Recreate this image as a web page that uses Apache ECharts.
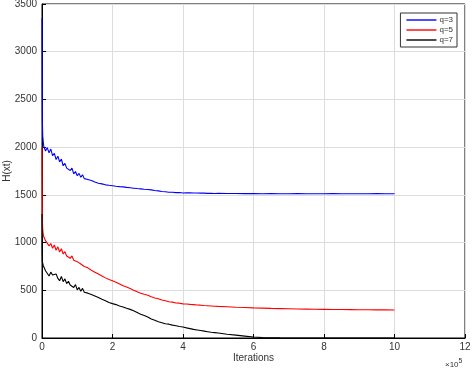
<!DOCTYPE html>
<html><head><meta charset="utf-8">
<script src="https://cdn.jsdelivr.net/npm/echarts@6/dist/echarts.min.js"></script>
<style>html,body{margin:0;padding:0;background:#fff}#c{width:474px;height:368px}</style>
</head><body><div id="c"></div>
<script>
// x values in units of 10^5 iterations
const iterations = [0, 0.005, 0.01, 0.02, 0.035, 0.05, 0.1, 0.15, 0.2, 0.25, 0.3, 0.35, 0.4, 0.45, 0.5, 0.55, 0.6, 0.65, 0.7, 0.75, 0.8, 0.85, 0.9, 0.95, 1.0, 1.05, 1.1, 1.15, 1.2, 1.25, 1.3, 1.35, 1.4, 1.45, 1.5, 1.55, 1.6, 1.65, 1.7, 1.75, 1.8, 1.85, 1.9, 1.95, 2.0, 2.05, 2.1, 2.15, 2.2, 2.25, 2.3, 2.35, 2.4, 2.45, 2.5, 2.55, 2.6, 2.65, 2.7, 2.75, 2.8, 2.85, 2.9, 2.95, 3.0, 3.1, 3.2, 3.3, 3.4, 3.5, 3.6, 3.7, 3.8, 3.9, 4.0, 4.1, 4.2, 4.3, 4.4, 4.5, 4.6, 4.7, 4.8, 4.9, 5.0, 5.25, 5.5, 5.75, 6.0, 6.25, 6.5, 6.75, 7.0, 7.25, 7.5, 7.75, 8.0, 8.25, 8.5, 8.75, 9.0, 9.25, 9.5, 9.75, 10.0];

const q3 = [3350, 2700, 2300, 2120, 2060, 2010, 1960, 1995, 1940, 1980, 1910, 1935, 1870, 1905, 1845, 1875, 1805, 1830, 1780, 1790, 1755, 1780, 1720, 1745, 1700, 1725, 1685, 1710, 1670, 1690, 1660, 1680, 1650, 1668, 1635, 1650, 1622, 1640, 1615, 1628, 1605, 1620, 1600, 1612, 1596, 1608, 1590, 1602, 1586, 1595, 1584, 1590, 1578, 1586, 1574, 1581, 1570, 1577, 1566, 1572, 1563, 1569, 1559, 1564, 1556, 1552, 1545, 1542, 1535, 1532, 1528, 1527, 1523, 1524, 1520, 1521, 1522, 1519, 1520, 1518, 1518, 1516, 1517, 1515, 1516, 1514, 1514, 1513, 1513, 1512, 1513, 1512, 1512, 1513, 1512, 1512, 1512, 1513, 1512, 1512, 1512, 1512, 1513, 1512, 1512];

const q5 = [2000, 1500, 1250, 1140, 1090, 1060, 1020, 1010, 965, 990, 940, 975, 920, 955, 900, 935, 880, 905, 860, 880, 835, 860, 815, 835, 800, 815, 775, 795, 750, 770, 735, 745, 710, 730, 690, 700, 670, 685, 650, 665, 630, 645, 612, 625, 600, 610, 585, 595, 565, 578, 548, 558, 535, 545, 518, 525, 500, 512, 485, 492, 470, 478, 458, 462, 448, 432, 420, 412, 398, 390, 380, 376, 366, 365, 358, 356, 352, 350, 346, 344, 340, 338, 336, 333, 331, 327, 323, 320, 316, 313, 310, 308, 306, 304, 303, 301, 300, 299, 298, 297, 296, 296, 295, 295, 294];

const q7 = [1300, 880, 800, 780, 760, 745, 705, 690, 650, 690, 660, 640, 670, 625, 600, 645, 590, 620, 570, 595, 555, 575, 530, 560, 505, 530, 490, 520, 480, 500, 470, 490, 455, 470, 440, 455, 425, 440, 405, 420, 390, 400, 372, 385, 360, 370, 350, 358, 335, 345, 325, 330, 312, 320, 300, 305, 285, 290, 268, 272, 250, 255, 235, 238, 220, 200, 185, 170, 160, 150, 145, 135, 128, 120, 115, 106, 98, 90, 84, 78, 72, 66, 60, 56, 52, 40, 30, 20, 10, 6, 3, 1, 0, 0, 0, 0, 0, 0, 0, 0, 0, 0, 0, 0, 0];

const seriesNames = ['q=3', 'q=5', 'q=7'];
const seriesColors = ['#0000ff', '#ff0000', '#000000'];
const seriesValues = [q3, q5, q7];

const font = 'Liberation Sans, Arial, sans-serif';
const chart = echarts.init(document.getElementById('c'));
chart.setOption({
  animation: false,
  backgroundColor: '#fff',
  grid: { left: 42, right: 9, top: 4, bottom: 30, show: true, borderColor: '#000', borderWidth: 1, containLabel: false, outerBoundsMode: 'none' },
  legend: {
    right: 17, top: 13, orient: 'vertical',
    backgroundColor: '#fff', borderColor: '#333', borderWidth: 1,
    padding: [3, 4, 3, 6], itemGap: 2, itemWidth: 30, itemHeight: 8,
    textStyle: { fontSize: 8, fontFamily: font, color: '#333', padding: [0, 0, 0, -2] },
    data: seriesNames.map(n => ({ name: n, icon: 'path://M0,0L30,0L30,1.4L0,1.4Z' }))
  },
  xAxis: {
    type: 'value', min: 0, max: 12, interval: 2,
    name: 'Iterations', nameLocation: 'middle', nameGap: 15, nameMoveOverlap: false,
    nameTextStyle: { fontSize: 10, fontFamily: font, color: '#333' },
    axisLine: { show: true, lineStyle: { color: '#000' } },
    axisTick: { show: true, inside: true, length: 4, lineStyle: { color: '#000' } },
    axisLabel: { fontSize: 10, fontFamily: font, color: '#333', margin: 4, formatter: v => String(v) },
    splitLine: { show: true, lineStyle: { color: '#dcdcdc' } }
  },
  yAxis: {
    type: 'value', min: 0, max: 3500, interval: 500,
    name: 'H(xt)', nameLocation: 'middle', nameGap: 30, nameRotate: 90, nameMoveOverlap: false,
    nameTextStyle: { fontSize: 10, fontFamily: font, color: '#333' },
    axisLine: { show: true, lineStyle: { color: '#000' } },
    axisTick: { show: true, inside: true, length: 4, lineStyle: { color: '#000' } },
    axisLabel: { fontSize: 10, fontFamily: font, color: '#333', margin: 5, formatter: v => String(v) },
    splitLine: { show: true, lineStyle: { color: '#dcdcdc' } }
  },
  graphic: [{
    type: 'text', left: 445, top: 358,
    style: {
      text: '{a|×10}{b|5}', fontFamily: font, fill: '#333',
      rich: { a: { fontSize: 8, fontFamily: font, fill: '#333' }, b: { fontSize: 7, fontFamily: font, fill: '#333', verticalAlign: 'top', padding: [0, 0, 6, 0] } }
    }
  }],
  series: seriesNames.map((n, i) => ({
    name: n, type: 'line', showSymbol: false, symbol: 'none',
    data: iterations.map((x, j) => [x, seriesValues[i][j]]),
    lineStyle: { color: seriesColors[i], width: 1.1 },
    itemStyle: { color: seriesColors[i] }
  }))
});
</script></body></html>
